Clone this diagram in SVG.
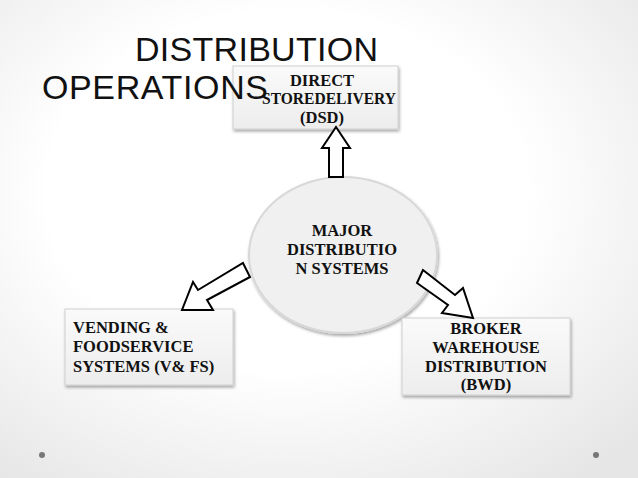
<svg xmlns="http://www.w3.org/2000/svg" width="638" height="478" viewBox="0 0 638 478">
<defs>
<radialGradient id="bg" cx="0.45" cy="0.4" r="0.75"><stop offset="0.5" stop-color="#ffffff"/><stop offset="1" stop-color="#e6e6e6"/></radialGradient>
<linearGradient id="box" x1="0" y1="0" x2="0" y2="1"><stop offset="0" stop-color="#fafafa"/><stop offset="1" stop-color="#ededed"/></linearGradient>
<filter id="sh" x="-10%" y="-10%" width="125%" height="130%"><feDropShadow dx="1" dy="2" stdDeviation="1.5" flood-color="#000" flood-opacity="0.35"/></filter>
</defs>
<style>
.b{fill:url(#box);stroke:#d0d0d0;stroke-width:1;filter:url(#sh)}
.t{font-family:"Liberation Serif",serif;font-weight:bold;font-size:16.5px;fill:#111}
.a{fill:#fff;stroke:#000;stroke-width:2;stroke-linejoin:miter}
.h{font-family:"Liberation Sans",Arial,sans-serif;font-size:34px;fill:#111}
</style>
<rect width="638" height="478" fill="url(#bg)"/>
<circle cx="42" cy="455" r="3" fill="#777"/><circle cx="596" cy="455" r="3" fill="#777"/>
<g id="dsd"><rect class="b" x="233" y="66" width="165" height="63"/>
<text class="t" text-anchor="middle" x="322" y="86">DIRECT</text>
<text class="t" x="262" y="104" textLength="134" lengthAdjust="spacingAndGlyphs">STOREDELIVERY</text>
<text class="t" text-anchor="middle" x="322" y="123">(DSD)</text></g>
<text class="h" x="135" y="61" textLength="243">DISTRIBUTION</text>
<text class="h" x="42" y="99" textLength="226">OPERATIONS</text>
<g id="major"><ellipse cx="343" cy="255" rx="94" ry="78" fill="#f0f0f0" stroke="#d8d8d8" stroke-width="2" filter="url(#sh)"/>
<text class="t" text-anchor="middle"><tspan x="342" y="236">MAJOR</tspan><tspan x="342" y="255">DISTRIBUTIO</tspan><tspan x="342" y="274">N SYSTEMS</tspan></text></g>
<g id="vfs"><rect class="b" x="65" y="309" width="168" height="76"/>
<text class="t"><tspan x="73" y="333">VENDING &amp;</tspan><tspan x="73" y="352">FOODSERVICE</tspan><tspan x="73" y="372">SYSTEMS (V&amp; FS)</tspan></text></g>
<g id="bwd"><rect class="b" x="402" y="318" width="168" height="77"/>
<text class="t" text-anchor="middle"><tspan x="486" y="334">BROKER</tspan><tspan x="486" y="353">WAREHOUSE</tspan><tspan x="486" y="372">DISTRIBUTION</tspan><tspan x="486" y="390">(BWD)</tspan></text></g>
<g id="connectors">
<polygon class="a" points="329,177 343,177 343,148 350,148 336,127 322,148 329,148"/>
<polygon class="a" points="243,263 250,277 207,300 213,310 182,310 193,282 198,290"/>
<polygon class="a" points="423,270 417,283 448,305 442,313 473,318 463,288 455,295"/>
</g>
</svg>
